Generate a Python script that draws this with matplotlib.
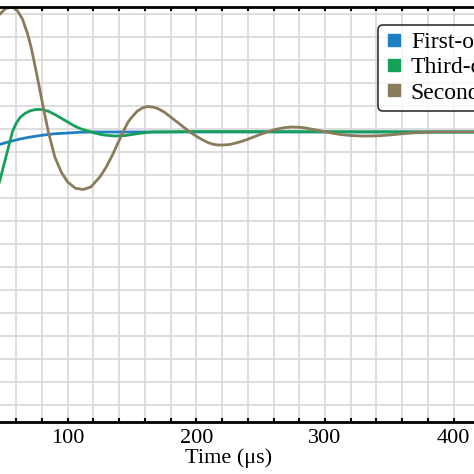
import matplotlib
matplotlib.use("Agg")
import matplotlib.pyplot as plt
from matplotlib.ticker import MultipleLocator
from matplotlib.lines import Line2D

plt.rcParams['font.family'] = ['Liberation Serif', 'DejaVu Serif']

t2 = [30,40,47,52,57,61,65,69,72,76,81,85,90,95,100,106,112,118,125,130,135,139,143,147,150,154,158,162,166,170,175,180,185,190,195,200,205,209,213,217,221,226,230,235,240,245,250,256,262,268,274,280,285,290,295,300,305,312,320,328,335,342,350,360,370,380,390,420,450]
y2 = [1.30,1.42,1.47,1.495,1.50,1.485,1.45,1.39,1.33,1.23,1.10,1.00,0.90,0.84,0.80,0.775,0.77,0.78,0.82,0.86,0.91,0.955,1.0,1.04,1.06,1.083,1.096,1.102,1.10,1.094,1.08,1.06,1.04,1.02,1.0,0.983,0.968,0.958,0.951,0.948,0.948,0.950,0.955,0.962,0.971,0.981,0.991,1.002,1.011,1.017,1.02,1.019,1.016,1.011,1.006,1.001,0.996,0.99,0.986,0.984,0.984,0.985,0.988,0.993,0.997,0.999,1.0,1.0,1.0]
t3 = [30,40,47,50,54,57,60,63,67,71,75,80,85,90,95,100,105,110,115,121,126,130,137,145,150,155,160,165,200,450]
y3 = [0.6,0.72,0.80,0.86,0.94,1.0,1.035,1.058,1.075,1.085,1.09,1.09,1.083,1.07,1.055,1.04,1.025,1.013,1.005,0.996,0.99,0.987,0.984,0.986,0.99,0.994,0.997,1.0,1.002,1.0]
t1 = [30,40,47,55,63,70,80,90,100,110,120,450]
y1 = [0.90,0.93,0.95,0.962,0.972,0.979,0.987,0.993,0.996,0.999,1.0,1.0]
labels = ["First-order", "Third-order", "Second-order"]
colors = ["#1f7fc4", "#17a05a", "#8a7b5a"]

W = 474
fig = plt.figure(figsize=(4.74, 4.74), dpi=100)
ax = fig.add_axes([-61/W, 1-422/W, 579/W, 415/W])
ax.plot(t1, y1, color=colors[0], lw=2)
ax.plot(t3, y3, color=colors[1], lw=2)
ax.plot(t2, y2, color=colors[2], lw=2)
ax.set_xlim(0, 450)
ax.set_ylim(-0.16, 1.5)
ax.xaxis.set_major_locator(MultipleLocator(100))
ax.xaxis.set_minor_locator(MultipleLocator(20))
ax.yaxis.set_major_locator(MultipleLocator(0.092))
ax.set_yticklabels([])
ax.tick_params(axis='both', which='both', direction='in', length=3, width=1.5, top=True, labelsize=16, pad=5)
ax.grid(True, which='both', color='#d8d8d8', lw=1.2)
for s in ax.spines.values():
    s.set_linewidth(2)
ax.set_xlabel("Time (μs)", fontsize=16, labelpad=0)

handles = [Line2D([], [], marker='s', ls='none', color=c, markersize=8) for c in colors]
leg = fig.legend(handles, labels, loc='upper left', bbox_to_anchor=(366/W, 1-13/W),
                 fontsize=17, frameon=True, fancybox=True, edgecolor='black',
                 handletextpad=0.3, borderpad=0.3, labelspacing=0.15, handlelength=0.8)
leg.get_frame().set_linewidth(1.2)
fig.savefig("out.png", dpi=100)
